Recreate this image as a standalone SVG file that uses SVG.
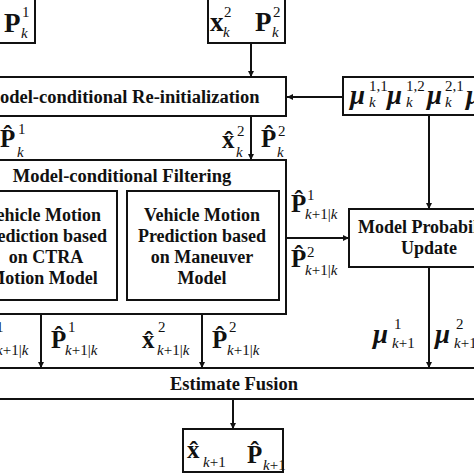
<svg xmlns="http://www.w3.org/2000/svg" width="474" height="474" viewBox="0 0 474 474">
<defs>
<marker id="ah" viewBox="0 0 10 10" refX="10" refY="5" markerWidth="6" markerHeight="6" markerUnits="userSpaceOnUse" orient="auto">
<path d="M0,0 L10,5 L0,10 z" fill="#111"/>
</marker>
<style>
.box{fill:#fff;stroke:#111;stroke-width:2}
.ln{fill:none;stroke:#111;stroke-width:2;marker-end:url(#ah)}
.t{font-family:"Liberation Serif","Times New Roman",serif;font-weight:bold;font-size:18.5px;fill:#111}
.c{text-anchor:middle;font-size:18px}
.m{font-family:"Liberation Serif","Times New Roman",serif;font-weight:bold;font-size:25px;fill:#111}
.big{font-size:27px}
.mu{font-family:"Liberation Serif","Times New Roman",serif;font-weight:bold;font-style:italic;font-size:27px;fill:#111}
.sp{font-family:"Liberation Serif","Times New Roman",serif;font-size:15px;fill:#111}
.sb{font-family:"Liberation Serif","Times New Roman",serif;font-size:15px;fill:#111}
.i{font-style:italic}
</style>
</defs>
<rect width="474" height="474" fill="#fff"/>

<g id="connectors">
<line class="ln" x1="251" y1="43" x2="251" y2="77"/>
<line class="ln" x1="343" y1="97" x2="287" y2="97"/>
<line class="ln" x1="251" y1="116" x2="251" y2="160"/>
<line class="ln" x1="429" y1="115" x2="429" y2="209"/>
<line class="ln" x1="286" y1="238" x2="349" y2="238"/>
<line class="ln" x1="429" y1="267" x2="429" y2="368"/>
<line class="ln" x1="41" y1="300" x2="41" y2="368"/>
<line class="ln" x1="202" y1="300" x2="202" y2="368"/>
<line class="ln" x1="233" y1="399" x2="233" y2="429"/>
</g>

<g id="input1">
<rect class="box" x="-10" y="-10" width="45" height="53"/>
<text class="m big" x="4" y="32">P</text><text class="sp" x="22" y="17">1</text><text class="sb i" x="21" y="38">k</text>
</g>

<g id="input2">
<rect class="box" x="208" y="-10" width="77" height="53"/>
<text class="m big" x="210" y="31">x</text><text class="sp" x="224" y="17">2</text><text class="sb i" x="223" y="37">k</text>
<text class="m big" x="255" y="31">P</text><text class="sp" x="273" y="17">2</text><text class="sb i" x="272" y="37">k</text>
</g>

<g id="reinit">
<rect class="box" x="-10" y="77" width="296" height="39"/>
<text class="t" x="121" y="103" text-anchor="middle">Model-conditional Re-initialization</text>
</g>

<g id="mixprob">
<rect class="box" x="343" y="77" width="141" height="38"/>
<text class="mu" x="350" y="104">μ</text><text class="sp" x="369" y="91">1,1</text><text class="sb i" x="369" y="107">k</text>
<text class="mu" x="387" y="104">μ</text><text class="sp" x="406" y="91">1,2</text><text class="sb i" x="406" y="107">k</text>
<text class="mu" x="427" y="104">μ</text><text class="sp" x="445" y="91">2,1</text><text class="sb i" x="445" y="107">k</text>
<text class="mu" x="466" y="104">μ</text>
</g>

<g id="reinit-out">
<text class="m" x="0" y="147">P̂</text><text class="sp" x="18" y="134">1</text><text class="sb i" x="17" y="157">k</text>
<text class="m" x="222" y="148">x̂</text><text class="sp" x="237" y="136">2</text><text class="sb i" x="236" y="157">k</text>
<text class="m" x="261" y="147">P̂</text><text class="sp" x="278" y="136">2</text><text class="sb i" x="277" y="157">k</text>
</g>

<g id="filtering">
<rect class="box" x="-10" y="160" width="296" height="154"/>
<text class="t" x="122" y="182" text-anchor="middle">Model-conditional Filtering</text>
</g>

<g id="ctra">
<rect class="box" x="-10" y="191" width="127" height="109"/>
<text class="t c" x="43" y="221">Vehicle Motion</text>
<text class="t c" x="43" y="242">Prediction based</text>
<text class="t c" x="46" y="263">on CTRA</text>
<text class="t c" x="43" y="284">Motion Model</text>
</g>

<g id="maneuver">
<rect class="box" x="127" y="191" width="152" height="109"/>
<text class="t c" x="202" y="221">Vehicle Motion</text>
<text class="t c" x="202" y="242">Prediction based</text>
<text class="t c" x="202" y="263">on Maneuver</text>
<text class="t c" x="202" y="284">Model</text>
</g>

<g id="filter-out-right">
<text class="m" x="291" y="212">P̂</text><text class="sp" x="307" y="200">1</text><text class="sb" x="305" y="219"><tspan class="i">k</tspan>+1|<tspan class="i">k</tspan></text>
<text class="m" x="291" y="267">P̂</text><text class="sp" x="307" y="257">2</text><text class="sb" x="305" y="275"><tspan class="i">k</tspan>+1|<tspan class="i">k</tspan></text>
</g>

<g id="modelprob">
<rect class="box" x="349" y="209" width="135" height="58"/>
<text class="t c" x="428" y="233">Model Probability</text>
<text class="t c" x="429" y="254">Update</text>
</g>

<g id="filter-out-bottom">
<text class="m" x="-18" y="348">x̂</text><text class="sp" x="-4" y="332">1</text><text class="sb" x="-4" y="355"><tspan class="i">k</tspan>+1|<tspan class="i">k</tspan></text>
<text class="m" x="51" y="348">P̂</text><text class="sp" x="68" y="332">1</text><text class="sb" x="65" y="355"><tspan class="i">k</tspan>+1|<tspan class="i">k</tspan></text>
<text class="m" x="142" y="348">x̂</text><text class="sp" x="158" y="332">2</text><text class="sb" x="157" y="355"><tspan class="i">k</tspan>+1|<tspan class="i">k</tspan></text>
<text class="m" x="212" y="348">P̂</text><text class="sp" x="229" y="332">2</text><text class="sb" x="227" y="355"><tspan class="i">k</tspan>+1|<tspan class="i">k</tspan></text>
<text class="mu" x="373" y="343">μ</text><text class="sp" x="394" y="329">1</text><text class="sb" x="392" y="348"><tspan class="i">k</tspan>+1</text>
<text class="mu" x="435" y="343">μ</text><text class="sp" x="456" y="329">2</text><text class="sb" x="454" y="348"><tspan class="i">k</tspan>+1</text>
</g>

<g id="fusion">
<rect class="box" x="-10" y="368" width="494" height="31"/>
<text class="t" x="234" y="390" text-anchor="middle">Estimate Fusion</text>
</g>

<g id="output">
<rect class="box" x="183" y="429" width="100" height="43"/>
<text class="m" x="187" y="458">x̂</text><text class="sb" x="203" y="467"><tspan class="i">k</tspan>+1</text>
<text class="m" x="247" y="463">P̂</text><text class="sb" x="263" y="470"><tspan class="i">k</tspan>+1</text>
</g>
</svg>
